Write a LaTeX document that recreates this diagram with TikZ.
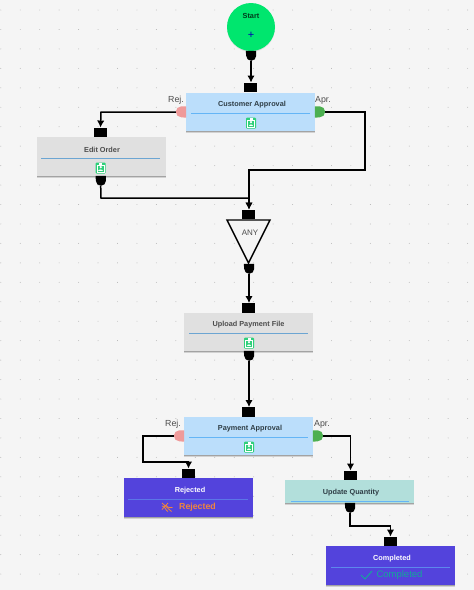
\documentclass[tikz,border=0pt]{standalone}
\usepackage{fontspec}
\setmainfont{Liberation Sans}
\usetikzlibrary{arrows.meta,shadows}
\definecolor{bgc}{HTML}{F5F5F5}
\definecolor{dotc}{HTML}{B0B0B0}
\definecolor{startc}{HTML}{00E66E}
\definecolor{bluebox}{HTML}{BBDEFB}
\definecolor{graybox}{HTML}{E0E0E0}
\definecolor{tealbox}{HTML}{B2DFDB}
\definecolor{indigobox}{HTML}{5343DC}
\definecolor{rulec}{HTML}{64B5F6}
\definecolor{pinkport}{HTML}{EF9A9A}
\definecolor{greenport}{HTML}{4CAF50}
\definecolor{iconc}{HTML}{2FD07A}
\definecolor{orangec}{HTML}{F0853C}
\definecolor{tealtext}{HTML}{14A79A}
\definecolor{titlec}{HTML}{2F3E46}
\tikzset{
  x=1pt,y=-1pt,
  flow/.style={draw=black,line width=1.5pt,-{Latex[length=7pt,width=7.5pt]}},
  portin/.style={fill=black,minimum width=13pt,minimum height=9.5pt,inner sep=0pt},
  portout/.style={minimum width=10pt,minimum height=10pt,inner sep=0pt},
  card/.style={minimum width=129pt,minimum height=38.5pt,inner sep=0pt,
    drop shadow={shadow xshift=0pt,shadow yshift=-2.2pt,opacity=.14,fill=black},
    drop shadow={shadow xshift=0pt,shadow yshift=-1.2pt,opacity=.22,fill=black}},
  title/.style={font=\fontsize{7.3}{9}\selectfont\bfseries,text=titlec,inner sep=0pt},
  wtitle/.style={font=\fontsize{7.3}{9}\selectfont\bfseries,text=white,inner sep=0pt},
  cardrule/.style={draw=rulec,line width=.7pt},
  portlabel/.style={font=\fontsize{8.8}{10}\selectfont,text=black!70,inner sep=0pt},
}
\newcommand\outport[3]{%
  \node[portout] (#1) at (#2,#3) {};
  \fill[black] (#1.north west) -- (#1.north east) -- ([yshift=-5pt]#1.north east)
    arc[start angle=0,end angle=-180,radius=5pt] -- cycle;}
\newcommand\sideport[4]{% name, x, y, colour; bulge to the right
  \node[portout,minimum height=11pt] (#1) at (#2,#3) {};
  \fill[#4] (#1.north west) -- ([xshift=-5.5pt]#1.north east)
    arc[start angle=90,end angle=-90,radius=5.5pt] -- (#1.south west) -- cycle;}
\newcommand\sideportL[4]{% bulge to the left
  \node[portout,minimum height=11pt] (#1) at (#2,#3) {};
  \fill[#4] (#1.north east) -- ([xshift=5.5pt]#1.north west)
    arc[start angle=90,end angle=270,radius=5.5pt] -- (#1.south east) -- cycle;}
\newcommand\usericon[2]{%
  \begin{scope}[shift={(#1,#2)}]
    \fill[iconc,rounded corners=1pt] (-5,-5.5) rectangle (5,5.5);
    \draw[white,line width=.4pt] (-3.5,-3.2) rectangle (3.5,4.2);
    \fill[white] (-1.5,-5) rectangle (1.5,-3.5);
    \fill[white] (0,-.9) circle[radius=1.2pt];
    \fill[white] (-2.4,3.2) .. controls (-2.4,.8) and (2.4,.8) .. (2.4,3.2) -- cycle;
  \end{scope}}
\begin{document}
\begin{tikzpicture}
\useasboundingbox (0,0) rectangle (474,590);
\fill[bgc] (0,0) rectangle (474,590);
% dotted grid
\foreach \i in {0,...,24}{\foreach \j in {0,...,30}{
  \fill[dotc] ({0.8+19.45*\i},{10+19.45*\j}) circle[radius=.45pt];}}

% start
\node[circle,fill=startc,minimum size=48pt,inner sep=0pt,
  drop shadow={shadow xshift=0pt,shadow yshift=-1pt,opacity=.2}] (start) at (251,27) {};
\node[title,text=black!75!startc] (starttxt) at (251,16) {Start};
\node[font=\fontsize{11}{12}\selectfont,text=blue!70!black,inner sep=0pt] (plus) at (251,35.5) {+};
\outport{startout}{251}{56}

% customer approval
\node[portin] (custin) at (250.5,87.5) {};
\node[card,fill=bluebox] (cust) at (250.5,112) {};
\node[title] (custtxt) at (252,105) {Customer Approval};
\draw[cardrule] (191,113) -- (310,113);
\usericon{251}{123}
\sideportL{custrej}{181}{112}{pinkport}
\sideport{custapr}{320}{112}{greenport}
\node[portlabel] (rejA) at (176,100) {Rej.};
\node[portlabel] (aprA) at (323,100) {Apr.};

% edit order
\node[portin] (editin) at (100.5,132.5) {};
\node[card,fill=graybox] (edit) at (101,156.5) {};
\node[title,text=black!70] (edittxt) at (102,150) {Edit Order};
\draw[cardrule,draw=rulec!70!gray] (41,158) -- (160,158);
\usericon{100.7}{168}
\outport{editout}{100.7}{181}

% any gate
\node[portin] (anyin) at (248.5,214.5) {};
\draw[line width=1.4pt,fill=bgc] (227,220) -- (270,220) -- (248.5,263) -- cycle;
\node[portlabel,font=\fontsize{8}{10}\selectfont] (anytxt) at (250,232.5) {ANY};
\outport{anyout}{249}{269}

% upload
\node[portin] (upin) at (248.5,308) {};
\node[card,fill=graybox] (up) at (248.5,332) {};
\node[title,text=black!70] (uptxt) at (248.5,325) {Upload Payment File};
\draw[cardrule,draw=rulec!70!gray] (189,333) -- (308,333);
\usericon{249}{343}
\outport{upout}{249}{356}

% payment approval
\node[portin] (payin) at (248.5,412) {};
\node[card,fill=bluebox] (pay) at (248.5,436) {};
\node[title] (paytxt) at (250,429) {Payment Approval};
\draw[cardrule] (189,437) -- (308,437);
\usericon{249}{447}
\sideportL{payrej}{179}{436}{pinkport}
\sideport{payapr}{318}{436}{greenport}
\node[portlabel] (rejB) at (173,424.5) {Rej.};
\node[portlabel] (aprB) at (322,424.5) {Apr.};

% rejected
\node[portin] (rejin) at (188.5,473.5) {};
\node[card,fill=indigobox] (rej) at (188.5,497.5) {};
\node[wtitle] (rejtxt) at (190,491) {Rejected};
\draw[cardrule,draw=rulec!45!indigobox] (128,499) -- (248,499);
\node[font=\fontsize{8.8}{11}\selectfont\bfseries,text=orangec,inner sep=0pt] (rejstat) at (197.5,507) {Rejected};
\begin{scope}[shift={(167,507)},line width=.8pt,orangec]
  \draw (-5,-4) -- (4.5,4.5);
  \draw (-5,-1) .. controls (-2,-1) and (-1,4) .. (1,4.5);
  \draw (-1,-2) .. controls (1,1) and (3,1) .. (5.5,.5);
  \draw (1,-4) -- (-5,2.5);
\end{scope}

% update quantity
\node[portin] (updin) at (350.5,475.5) {};
\node[card,fill=tealbox,minimum height=23pt] (upd) at (349.5,491.5) {};
\node[title] (updtxt) at (351,493) {Update Quantity};
\draw[cardrule] (291,501.5) -- (409,501.5);
\outport{updout}{350}{508}

% completed
\node[portin] (compin) at (390.5,541.5) {};
\node[card,fill=indigobox] (comp) at (390.5,565.5) {};
\node[wtitle] (comptxt) at (392,559) {Completed};
\draw[cardrule,draw=rulec!60!indigobox] (331,567) -- (450,567);
\node[font=\fontsize{9.5}{11}\selectfont,text=tealtext,inner sep=0pt] (compstat) at (399.5,575) {Completed};
\draw[tealtext,line width=1pt] (361,575) -- (365,579) -- (372,571);

% bends
\coordinate (b1) at (101,112);
\coordinate (b2) at (101,198);
\coordinate (b3) at (249,198);
\coordinate (b4) at (365,112);
\coordinate (b5) at (365,170);
\coordinate (b6) at (249,170);
\coordinate (b7) at (143,436);
\coordinate (b8) at (143,462);
\coordinate (b9) at (188.5,462);
\coordinate (b10) at (350.5,436);
\coordinate (b11) at (350,526);
\coordinate (b12) at (390.5,526);

% connectors
\draw[flow] (startout.south) -- (startout.south |- custin.north);
\draw[flow] (custrej.west) -- (b1) -- (editin.north);
\draw[flow] (custapr.east) -- (b4) -- (b5) -- (b6) -- (b6 |- anyin.north);
\draw[flow] (editout.south) -- (b2) -- (b3) -- (b3 |- anyin.north);
\draw[flow] (anyout.south) -- (anyout.south |- upin.north);
\draw[flow] (upout.south) -- (upout.south |- payin.north);
\draw[flow] (payrej.west) -- (b7) -- (b8) -- (b9) -- (rejin.north);
\draw[flow] (payapr.east) -- (b10) -- (updin.north);
\draw[flow] (updout.south) -- (b11) -- (b12) -- (compin.north);
\end{tikzpicture}
\end{document}
